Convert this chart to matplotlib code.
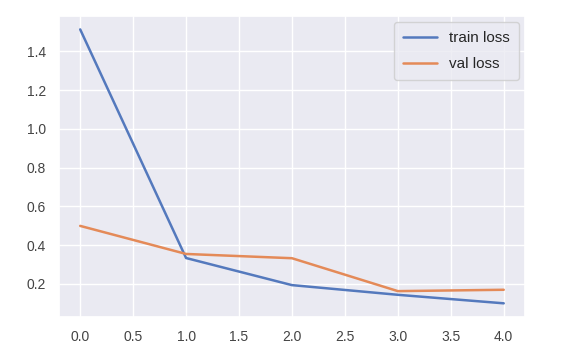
import matplotlib
matplotlib.use("Agg")
import matplotlib.pyplot as plt
import seaborn as sns

# loss per epoch
epochs = [0, 1, 2, 3, 4]
train_loss = [1.514, 0.333, 0.193, 0.143, 0.099]
val_loss = [0.499, 0.354, 0.332, 0.162, 0.169]

sns.set_theme(style="darkgrid")
plt.rcParams["font.family"] = ["Liberation Sans", "DejaVu Sans"]

fig = plt.figure(figsize=(5.62, 3.57), dpi=100)
ax = fig.add_axes([0.105, 0.112, 0.829, 0.844])

ax.plot(epochs, train_loss, label="train loss", color="#5479bd", lw=1.8)
ax.plot(epochs, val_loss, label="val loss", color="#e48a58", lw=1.8)
ax.tick_params(labelsize=10, colors="#444444")
ax.legend(loc="upper right", fontsize=11, borderpad=0.6, labelspacing=0.8,
          handlelength=2.2, borderaxespad=0.4)

fig.savefig("out.png", dpi=100)
